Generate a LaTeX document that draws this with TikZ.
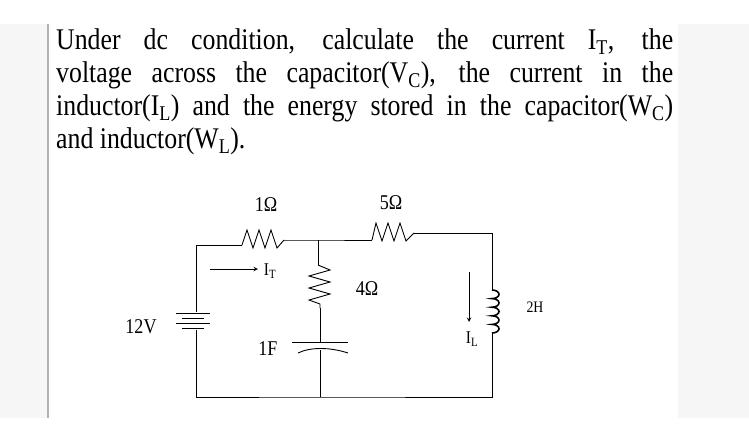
\documentclass[tikz,border=0pt]{standalone}
\usepackage{fontspec}
\setmainfont[FakeStretch=0.86]{Liberation Serif}
\begin{document}
\begin{tikzpicture}[x=1pt,y=-1pt,
  wire/.style={line width=0.9pt,line join=miter},
  lbl/.style={inner sep=0pt,font=\fontsize{21}{21}\selectfont},
  arr/.style={line width=1pt,-stealth}]
\useasboundingbox (0,0) rectangle (749,447);
\fill[white] (0,0) rectangle (749,447);
\fill[gray!7] (0,24) rectangle (749,418);
\fill[white] (48,24) rectangle (678,418);
\draw[gray!60,line width=1.2pt] (48,24) -- (48,418);
\node[anchor=north west,inner sep=0pt,text width=617pt,align=justify,
  font=\fontsize{30}{33}\selectfont] (txt) at (56,28)
{Under dc condition, calculate the current I\textsubscript{T}, the\linebreak
voltage across the capacitor(V\textsubscript{C}), the current in the\linebreak
inductor(I\textsubscript{L}) and the energy stored in the capacitor(W\textsubscript{C})\linebreak
and inductor(W\textsubscript{L}).};
% coordinates
\coordinate (bl) at (196,397);
\coordinate (bb) at (196,330);
\coordinate (bt) at (196,312);
\coordinate (tl) at (196,245);
\coordinate (r1a) at (242,245);
\coordinate (r1b) at (284,240);
\coordinate (j) at (318,240);
\coordinate (r4a) at (318,265);
\coordinate (r4b) at (320,308);
\coordinate (c1) at (320,342);
\coordinate (c2) at (320,350);
\coordinate (jb) at (320,397);
\coordinate (r5a) at (372,240);
\coordinate (r5b) at (414,233);
\coordinate (tr) at (492,233);
\coordinate (la) at (492,290);
\coordinate (lb) at (492,333);
\coordinate (br) at (492,397);
% wires
\draw[wire] (bb) -- (bl) -- (jb) -- (br) -- (lb);
\draw[wire] (bt) -- (tl) -- (r1a);
\draw[wire] (r1b) -- (j) -- (r5a);
\draw[wire] (r5b) -- (tr) -- (la);
\draw[wire] (j) -- (r4a);
\draw[wire] (r4b) -- (c1);
\draw[wire] (c2) -- (jb);
% resistors
\draw[wire] (r1a) -- (247,230) -- (253,248) -- (259,230) -- (265,248) -- (271,230) -- (277,248) -- (r1b);
\draw[wire] (r5a) -- (376,223) -- (382,241) -- (388,223) -- (394,241) -- (400,223) -- (406,241) -- (r5b);
\draw[wire] (r4a) -- (330,270) -- (309,276) -- (330,282) -- (309,288) -- (330,294) -- (309,300) -- (320,304) -- (r4b);
% capacitor
\draw[wire] (292,342) -- (348,342);
\draw[wire] (298,353) .. controls (310,347) and (330,347) .. (348,353);
% battery
\draw[wire] (176,313) -- (210,313);
\draw[wire] (182,318) -- (204,318);
\draw[wire] (176,323) -- (210,323);
\draw[wire] (182,328) -- (204,328);
% inductor
\draw[wire,line width=1.6pt] (la) \foreach \i in {0,...,4} { arc[start angle=-90,end angle=90,x radius=7,y radius=4.3] };
% arrows
\coordinate (ita) at (210,269);
\coordinate (itb) at (258,269);
\draw[arr] (ita) -- (itb);
\coordinate (ila) at (469,272);
\coordinate (ilb) at (469,322);
\draw[arr] (ila) -- (ilb);
% labels
\node[lbl] (l1) at (266,205) {1Ω};
\node[lbl] (l5) at (391,203) {5Ω};
\node[lbl] (l4) at (367,289) {4Ω};
\node[lbl] (l12) at (141,327) {12V};
\node[lbl] (lf) at (268,349) {1F};
\node[lbl,font=\fontsize{16}{16}\selectfont] (lh) at (535,307) {2H};
\node[lbl,font=\fontsize{18}{18}\selectfont] (lit) at (270,271) {I\textsubscript{T}};
\node[lbl,font=\fontsize{18}{18}\selectfont] (lil) at (472,339) {I\textsubscript{L}};
\end{tikzpicture}
\end{document}
